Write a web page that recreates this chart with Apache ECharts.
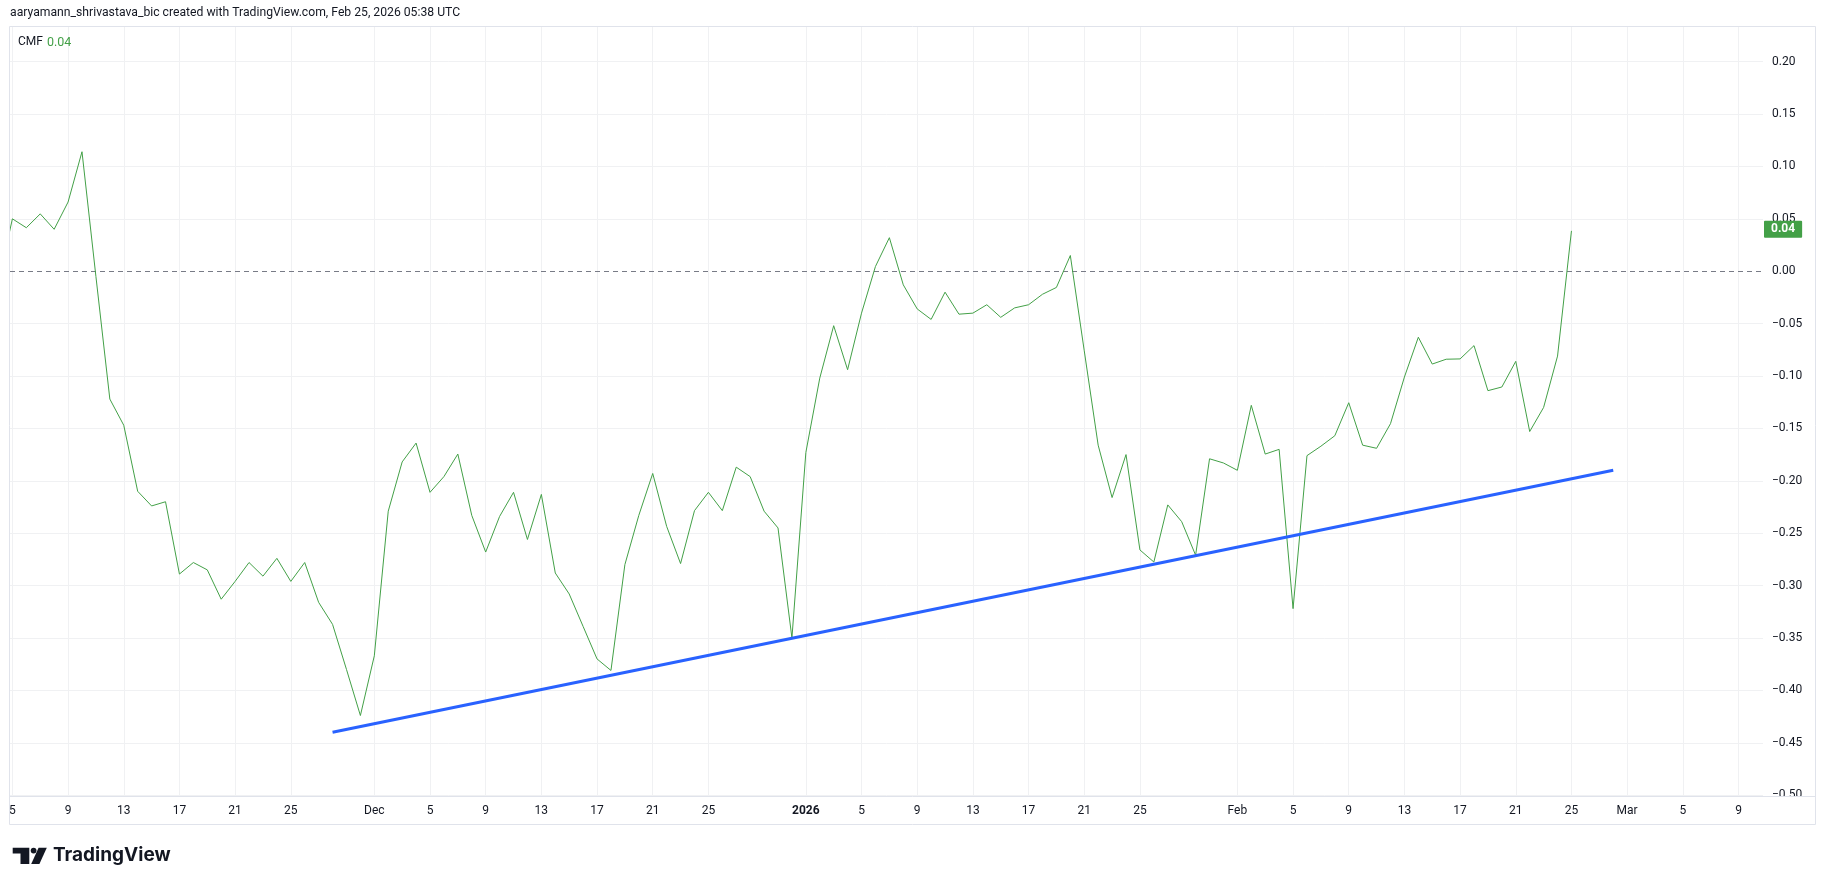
<!DOCTYPE html>
<html><head><meta charset="utf-8">
<script src="https://cdn.jsdelivr.net/npm/echarts@6/dist/echarts.min.js"></script>
<style>html,body{margin:0;padding:0;background:#fff}#c{width:1825px;height:885px}</style>
</head><body><div id="c"></div>
<script>
// CMF values, one per calendar day
const novStartDay = 4; // Nov 4 .. Nov 30
const novValues = [-0.010, 0.050, 0.0415, 0.0547, 0.040, 0.066, 0.114, -0.005, -0.122, -0.147,
  -0.210, -0.224, -0.220, -0.289, -0.278, -0.285, -0.313, -0.296, -0.278, -0.291,
  -0.274, -0.296, -0.278, -0.316, -0.337, -0.380, -0.424];
const decValues = [-0.367, -0.229, -0.182, -0.164, -0.211, -0.196, -0.1745, -0.233, -0.268, -0.234,
  -0.211, -0.256, -0.213, -0.288, -0.308, -0.339, -0.370, -0.381, -0.280, -0.233,
  -0.193, -0.2435, -0.279, -0.2285, -0.211, -0.2285, -0.187, -0.196, -0.229, -0.245, -0.350];
const janValues = [-0.173, -0.102, -0.052, -0.094, -0.040, 0.0045, 0.032, -0.013, -0.036, -0.046,
  -0.020, -0.041, -0.040, -0.032, -0.044, -0.035, -0.032, -0.022, -0.0155, 0.015,
  -0.076, -0.166, -0.216, -0.175, -0.266, -0.2775, -0.223, -0.239, -0.271, -0.179, -0.183];
const febValues = [-0.190, -0.128, -0.1745, -0.170, -0.322, -0.176, -0.167, -0.157, -0.1255, -0.166,
  -0.169, -0.1455, -0.101, -0.063, -0.0886, -0.084, -0.0837, -0.071, -0.114, -0.1105,
  -0.086, -0.153, -0.130, -0.081, 0.0385];

// trend line drawing (two anchors)
const trendDates = ['2025-11-28', '2026-02-28'];
const trendValues = [-0.44, -0.19];

// axis ticks
const yTicks = [0.20, 0.15, 0.10, 0.05, 0.00, -0.05, -0.10, -0.15, -0.20, -0.25, -0.30, -0.35, -0.40, -0.45, -0.50];
const xTickDates = ['2025-11-05','2025-11-09','2025-11-13','2025-11-17','2025-11-21','2025-11-25',
  '2025-12-01','2025-12-05','2025-12-09','2025-12-13','2025-12-17','2025-12-21','2025-12-25',
  '2026-01-01','2026-01-05','2026-01-09','2026-01-13','2026-01-17','2026-01-21','2026-01-25',
  '2026-02-01','2026-02-05','2026-02-09','2026-02-13','2026-02-17','2026-02-21','2026-02-25',
  '2026-03-01','2026-03-05','2026-03-09'];
const xTickLabels = ['5','9','13','17','21','25','Dec','5','9','13','17','21','25',
  '2026','5','9','13','17','21','25','Feb','5','9','13','17','21','25','Mar','5','9'];

const BASE = Date.UTC(2025, 10, 5);
function dayIdx(s) { const p = s.split('-').map(Number); return (Date.UTC(p[0], p[1]-1, p[2]) - BASE) / 86400000; }
function pad(n) { return (n < 10 ? '0' : '') + n; }

const cmfData = [];
function addMonth(y, m, start, vals) {
  vals.forEach((v, i) => cmfData.push([dayIdx(y + '-' + pad(m) + '-' + pad(start + i)), v]));
}
addMonth(2025, 11, novStartDay, novValues);
addMonth(2025, 12, 1, decValues);
addMonth(2026, 1, 1, janValues);
addMonth(2026, 2, 1, febValues);

const trendData = trendDates.map((d, i) => [dayIdx(d), trendValues[i]]);
const xTickDays = xTickDates.map(dayIdx);
const labelMap = {};
xTickDays.forEach((d, i) => labelMap[d] = xTickLabels[i]);
const lastVal = cmfData[cmfData.length - 1][1];

const FONT = 'Roboto, "Liberation Sans", sans-serif';
const TXT = '#131722';
const GREEN = '#43A047';
const GRID = '#f0f1f3';

const chart = echarts.init(document.getElementById('c'));
chart.setOption({
  animation: false,
  backgroundColor: '#ffffff',
  grid: { left: 10, right: 62, top: 26, bottom: 89 },
  xAxis: {
    type: 'value', min: -0.172, max: 125.76, z: 5,
    axisLine: { show: false }, axisTick: { show: false }, splitLine: { show: false },
    axisLabel: {
      customValues: xTickDays, margin: 9, fontSize: 12, fontFamily: FONT, color: TXT,
      formatter: v => { const l = labelMap[v]; return l === '2026' ? '{b|' + l + '}' : l; },
      rich: { b: { fontWeight: 'bold', fontSize: 12, fontFamily: FONT, color: TXT } }
    }
  },
  yAxis: {
    type: 'value', position: 'right', min: -0.5008, max: 0.234,
    axisLine: { show: false }, axisTick: { show: false }, splitLine: { show: false },
    axisLabel: {
      customValues: yTicks, margin: 9, fontSize: 12, fontFamily: FONT, color: TXT,
      formatter: v => (v < -1e-9 ? '\u2212' : '') + Math.abs(v).toFixed(2)
    }
  },
  series: [
    {
      type: 'line', data: [], z: 0, silent: true,
      markLine: {
        z: 0, silent: true, symbol: ['none', 'none'], label: { show: false }, animation: false,
        lineStyle: { color: GRID, width: 1, type: 'solid' },
        data: yTicks.filter(v => Math.abs(v) > 1e-9).map(v => ({ yAxis: v }))
          .concat(xTickDays.map(d => ({ xAxis: d })))
      }
    },
    {
      type: 'line', data: [], z: 1, silent: true,
      markLine: {
        z: 1, silent: true, symbol: ['none', 'none'], label: { show: false }, animation: false,
        lineStyle: { color: '#787b86', width: 1, type: [5, 4] },
        data: [{ yAxis: 0 }]
      }
    },
    {
      name: 'CMF', type: 'line', data: cmfData, z: 3, showSymbol: false, silent: true,
      lineStyle: { color: GREEN, width: 1 }
    },
    {
      type: 'line', data: trendData, z: 4, showSymbol: false, silent: true,
      lineStyle: { color: '#2962FF', width: 3 }
    },
    {
      type: 'line', data: [], z: 10, clip: false, silent: true,
      markLine: {
        z: 10, silent: true, symbol: ['none', 'none'], animation: false,
        lineStyle: { color: 'rgba(0,0,0,0)', width: 1 },
        label: {
          show: true, position: 'end', distance: 1,
          formatter: () => lastVal.toFixed(2),
          color: '#ffffff', backgroundColor: GREEN, fontFamily: FONT, fontSize: 12, fontWeight: 'bold',
          padding: [2, 7, 2, 7], lineHeight: 13, borderRadius: 1
        },
        data: [{ yAxis: lastVal }]
      }
    }
  ],
  graphic: [
    { type: 'rect', z: 100, silent: true, shape: { x: 1764, y: 797, width: 51, height: 27 }, style: { fill: '#ffffff' } },
    { type: 'rect', z: 101, silent: true, shape: { x: 9.5, y: 26.5, width: 1806, height: 798 }, style: { fill: 'none', stroke: '#e0e3eb', lineWidth: 1 } },
    { type: 'line', z: 101, silent: true, shape: { x1: 9.5, y1: 796.5, x2: 1815.5, y2: 796.5 }, style: { stroke: '#e0e3eb', lineWidth: 1 } },
    { type: 'text', z: 101, left: 10, top: 7, style: { text: 'aaryamann_shrivastava_bic created with TradingView.com, Feb 25, 2026 05:38 UTC', fill: TXT, font: '12.2px ' + FONT } },
    { type: 'text', z: 101, left: 18, top: 36, style: { text: 'CMF', fill: TXT, font: '12px ' + FONT } },
    { type: 'text', z: 101, left: 47, top: 36, style: { text: lastVal.toFixed(2), fill: GREEN, font: '12.5px ' + FONT } },
    { type: 'polygon', z: 101, silent: true, shape: { points: [[12.7,847.7],[29.3,847.7],[29.3,864],[20.5,864],[20.5,853.5],[12.7,853.5]] }, style: { fill: TXT } },
    { type: 'circle', z: 101, silent: true, shape: { cx: 33.6, cy: 850.6, r: 2.9 }, style: { fill: TXT } },
    { type: 'polygon', z: 101, silent: true, shape: { points: [[38.6,847.7],[46.8,847.7],[39.4,864],[31.2,864]] }, style: { fill: TXT } },
    { type: 'text', z: 101, left: 53, top: 846, style: { text: 'TradingView', fill: TXT, font: 'bold 19px Inter, Roboto, sans-serif' } }
  ]
});
</script></body></html>
